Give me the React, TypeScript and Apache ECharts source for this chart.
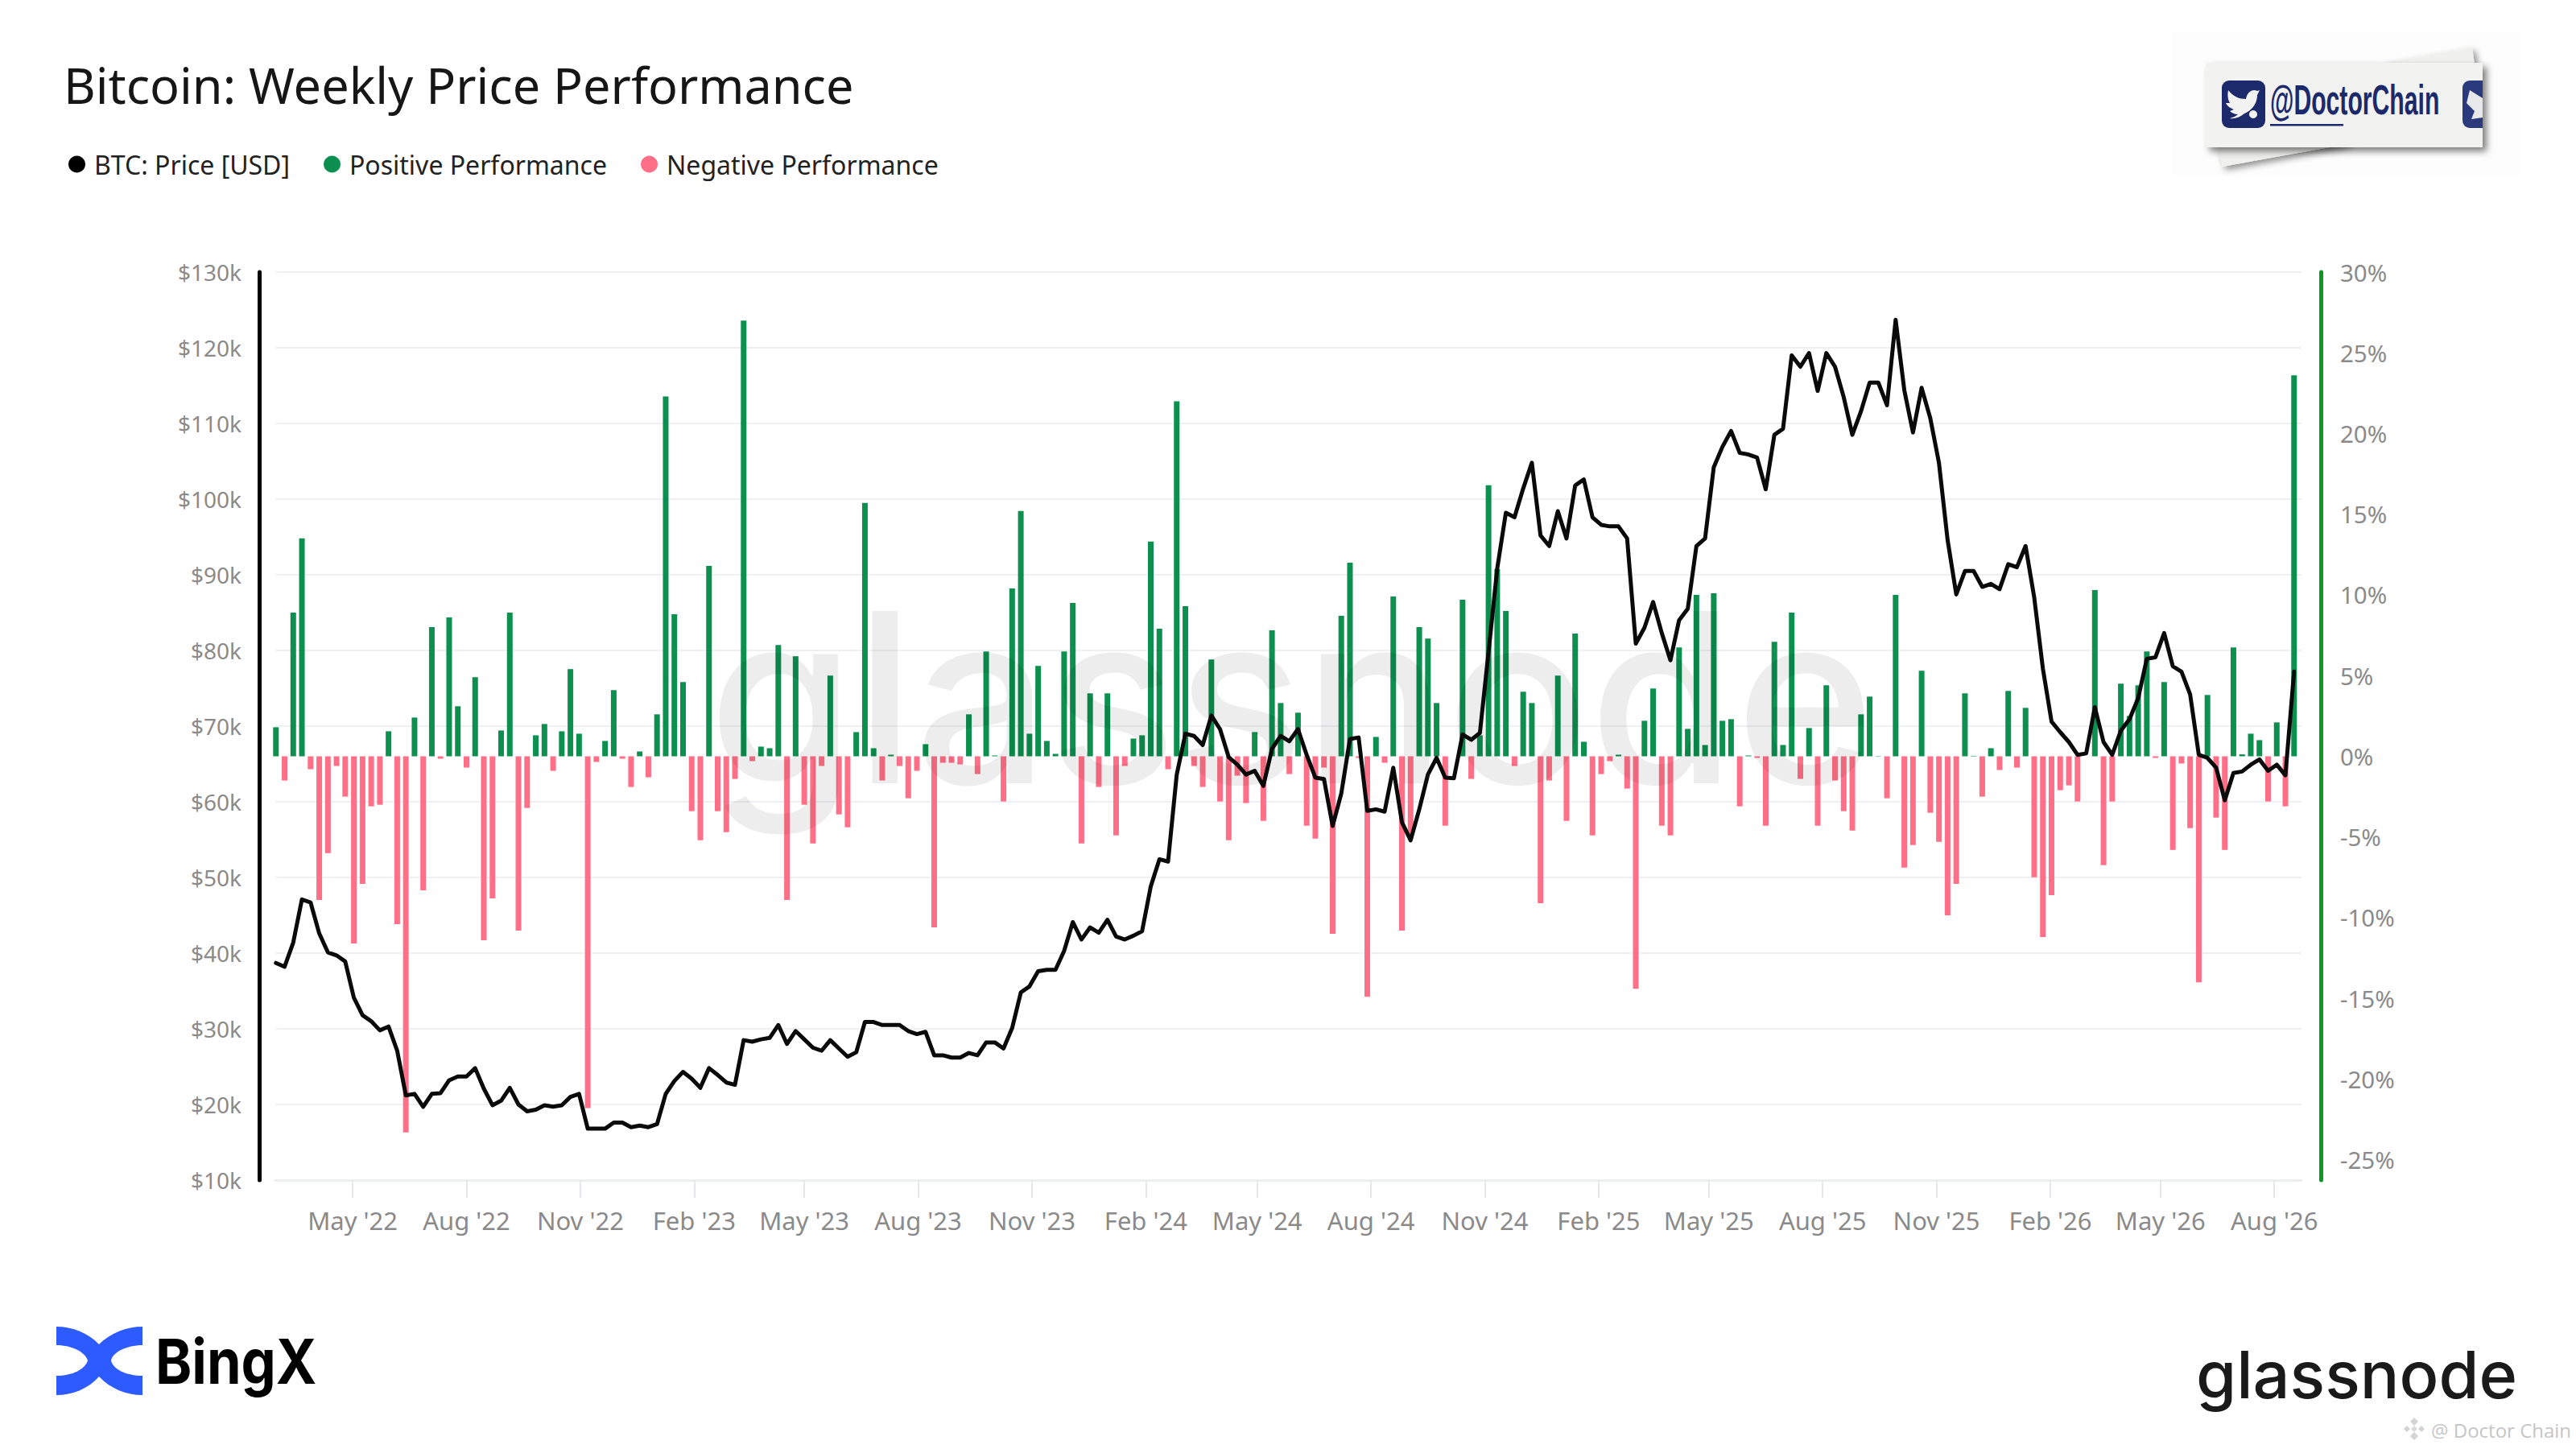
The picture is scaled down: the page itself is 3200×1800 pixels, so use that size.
import React, { useEffect, useRef } from 'react';
import * as echarts from 'echarts';

// weekly closes, in thousands of USD
const btcPriceK = [
  38.7, 38.2, 41.4, 47.1, 46.7, 42.6, 40.1, 39.7, 38.9, 34.1, 31.8, 31.0, 29.8, 30.3, 27.1, 21.2, 21.4, 19.7, 21.4, 21.5,
  23.2, 23.7, 23.7, 24.8, 22.1, 19.9, 20.5, 22.2, 20.0, 19.1, 19.3, 19.9, 19.7, 19.9, 21.0, 21.4, 16.8, 16.8, 16.8, 17.6,
  17.6, 17.0, 17.2, 17.0, 17.4, 21.4, 23.1, 24.3, 23.4, 22.2, 24.8, 23.9, 22.9, 22.6, 28.5, 28.3, 28.6, 28.8, 30.5, 28.0,
  29.7, 28.6, 27.5, 27.1, 28.5, 27.4, 26.3, 26.9, 30.9, 30.9, 30.5, 30.5, 30.5, 29.7, 29.3, 29.6, 26.5, 26.5, 26.2, 26.2,
  26.8, 26.5, 28.2, 28.2, 27.4, 30.1, 34.8, 35.6, 37.6, 37.8, 37.8, 40.3, 44.1, 41.8, 43.4, 42.7, 44.4, 42.2, 41.8, 42.3,
  42.9, 48.8, 52.4, 52.1, 63.6, 69.0, 68.7, 67.5, 71.4, 69.6, 65.9, 64.9, 63.6, 64.1, 62.1, 67.0, 68.7, 68.0, 69.6, 66.2,
  63.2, 63.0, 56.8, 61.1, 68.3, 68.5, 58.8, 59.0, 58.7, 64.5, 57.3, 54.9, 59.0, 63.6, 65.8, 63.2, 63.1, 68.9, 68.2, 69.1,
  79.8, 90.8, 98.2, 97.6, 101.4, 104.8, 95.2, 93.8, 98.4, 94.8, 101.8, 102.6, 97.6, 96.6, 96.4, 96.4, 94.8, 80.9, 83.0, 86.4,
  82.3, 78.7, 84.0, 85.5, 93.8, 94.8, 104.2, 106.9, 109.0, 106.1, 105.9, 105.5, 101.3, 108.5, 109.3, 119.0, 117.5, 119.3, 114.3, 119.3,
  117.5, 113.5, 108.5, 111.6, 115.4, 115.4, 112.4, 123.7, 114.4, 108.8, 114.7, 110.7, 104.8, 94.6, 87.4, 90.5, 90.5, 88.4, 88.8, 88.1,
  91.4, 91.0, 93.8, 87.0, 77.6, 70.6, 69.2, 67.9, 66.2, 66.4, 72.5, 67.9, 66.2, 69.4, 70.9, 73.7, 78.9, 79.1, 82.3, 77.9,
  77.2, 74.2, 66.2, 65.8, 64.5, 60.2, 63.8, 64.0, 64.9, 65.6, 64.1, 64.9, 63.5, 77.2,
];

// weekly change in percent
const weeklyChange = [
  1.8, -1.5, 8.9, 13.5, -0.8, -8.9, -6.0, -0.6, -2.5, -11.6, -7.9, -3.1, -3.0, 1.55, -10.4, -23.3, 2.4, -8.3, 8.0, -0.15,
  8.6, 3.1, -0.7, 4.9, -11.4, -8.8, 1.6, 8.9, -10.8, -3.2, 1.3, 2.0, -0.9, 1.55, 5.4, 1.4, -21.8, -0.35, 0.95, 4.1,
  -0.15, -1.9, 0.3, -1.3, 2.6, 22.3, 8.8, 4.6, -3.4, -5.2, 11.8, -3.4, -4.7, -1.4, 27.0, -0.3, 0.6, 0.5, 6.9, -8.9,
  6.2, -3.0, -5.4, -0.6, 5.0, -3.6, -4.4, 1.5, 15.7, 0.5, -1.5, 0.1, -0.6, -2.6, -0.9, 0.75, -10.6, -0.4, -0.4, -0.5,
  2.6, -1.1, 6.5, 0.05, -2.8, 10.4, 15.2, 1.4, 5.6, 0.95, 0.15, 6.5, 9.5, -5.4, 3.9, -1.9, 3.9, -4.9, -0.6, 1.1,
  1.3, 13.3, 7.9, -0.8, 22.0, 9.3, -0.6, -1.9, 6.0, -2.8, -5.2, -1.2, -2.9, 1.5, -4.0, 7.8, 3.3, -1.1, 2.7, -4.3,
  -5.1, -0.7, -11.0, 8.7, 12.0, -0.1, -14.9, 1.2, -0.4, 9.9, -10.8, -5.1, 8.0, 7.3, 3.3, -4.3, 0, 9.7, -1.4, 1.3,
  16.8, 11.6, 9.0, -0.6, 4.0, 3.3, -9.1, -1.5, 5.0, -4.0, 7.6, 0.9, -4.9, -1.1, -0.3, 0.1, -2.0, -14.4, 2.2, 4.2,
  -4.3, -4.9, 6.75, 1.7, 10.0, 0.7, 10.1, 2.2, 2.3, -3.1, 0.05, -0.1, -4.3, 7.1, 0.7, 8.9, -1.4, 1.75, -4.3, 4.4,
  -1.5, -3.4, -4.6, 2.6, 3.7, 0.02, -2.6, 10.0, -6.9, -5.5, 5.3, -3.5, -5.3, -9.85, -7.9, 3.9, 0.03, -2.5, 0.5, -0.85,
  4.05, -0.7, 3.0, -7.5, -11.2, -8.6, -2.1, -1.8, -2.8, 0, 10.3, -6.75, -2.8, 4.5, 2.5, 4.4, 6.5, -0.1, 4.6, -5.8,
  -0.45, -4.45, -14.0, 3.8, -3.8, -5.8, 6.75, 0.12, 1.4, 1.0, -2.8, 2.1, -3.1, 23.6,
];

const firstWeek = Date.UTC(2022, 1, 28);
const weekMs = 7 * 24 * 3600 * 1000;

const xTickDates = [
  '2022-05-01', '2022-08-01', '2022-11-01', '2023-02-01', '2023-05-01', '2023-08-01', '2023-11-01', '2024-02-01', '2024-05-01',
  '2024-08-01', '2024-11-01', '2025-02-01', '2025-05-01', '2025-08-01', '2025-11-01', '2026-02-01', '2026-05-01', '2026-08-01',
];
const xTickLabels = [
  "May '22", "Aug '22", "Nov '22", "Feb '23", "May '23", "Aug '23", "Nov '23", "Feb '24", "May '24",
  "Aug '24", "Nov '24", "Feb '25", "May '25", "Aug '25", "Nov '25", "Feb '26", "May '26", "Aug '26",
];
const percentTicks = [30, 25, 20, 15, 10, 5, 0, -5, -10, -15, -20, -25];

const UI_FONT = '"Noto Sans", sans-serif';

echarts.graphic.registerShape(
  'bingxMark',
  echarts.graphic.extendPath(
    'M0 0C20 0 40 8 53 22C67 8 87 0 107 0L107 23C87 23 70 32 68 42C70 53 87 61 107 61L107 85C87 85 67 77 53 62C40 77 20 85 0 85L0 61C20 61 36 53 39 42C36 32 20 23 0 23Z',
    {}
  )
);
echarts.graphic.registerShape(
  'birdMark',
  echarts.graphic.extendPath(
    'M8 12C14 20 22 23 30 23C31 15 38 10 44 13L47 12L44 18C44 28 38 37 28 41C22 46 16 48 10 47C14 46 18 44 20 42C16 42 12 40 10 38L15 36C10 34 6 31 5 28L10 28C7 23 7 17 8 12Z',
    {}
  )
);

const diamond = (cx: number, cy: number, r: number, fill: string) => ({
  type: 'polygon',
  z: 30,
  shape: { points: [[cx, cy - r], [cx + r, cy], [cx, cy + r], [cx - r, cy]] },
  style: { fill },
});

const App: React.FC = () => {
  const chartRef = useRef<HTMLDivElement>(null);

  useEffect(() => {
    if (!chartRef.current) return;
    const chart = echarts.init(chartRef.current, null, { renderer: 'svg' });

    const weekOf = (i: number) => firstWeek + i * weekMs;
    const priceData = btcPriceK.map((v, i) => [weekOf(i), v * 1000]);
    const positiveData = weeklyChange.map((v, i) => [weekOf(i), v >= 0 ? v : null]);
    const negativeData = weeklyChange.map((v, i) => [weekOf(i), v < 0 ? v : null]);
    const tickTimes = xTickDates.map((d) => Date.parse(d));
    const tickLabelByTime = new Map(tickTimes.map((t, i) => [t, xTickLabels[i]]));

    chart.setOption({
      animation: false,
      backgroundColor: '#ffffff',
      title: {
        text: 'Bitcoin: Weekly Price Performance',
        left: 74,
        top: 70,
        textStyle: { fontFamily: UI_FONT, fontSize: 61.2, fontWeight: 400, color: '#161616' },
      },
      legend: {
        left: 80,
        top: 183,
        icon: 'circle',
        itemWidth: 21,
        itemHeight: 21,
        itemGap: 42,
        data: ['BTC: Price [USD]', 'Positive Performance', 'Negative Performance'],
        textStyle: { fontFamily: UI_FONT, fontSize: 32, color: '#222222', padding: [0, 0, 0, 6] },
      },
      grid: { left: 342, right: 341, top: 338, bottom: 334 },
      xAxis: {
        // timestamps on a value axis, the ticks are the 1st of every third month
        type: 'value',
        min: Date.UTC(2022, 1, 27, 12),
        max: Date.UTC(2026, 7, 23),
        axisLine: { onZero: false, lineStyle: { color: '#eceef2', width: 3 } },
        axisTick: {
          length: 22,
          lineStyle: { color: '#e6e7ec', width: 2 },
          customValues: tickTimes,
        },
        axisLabel: {
          customValues: tickTimes,
          formatter: (v: number) => tickLabelByTime.get(v) ?? '',
          margin: 34,
          fontFamily: UI_FONT,
          fontSize: 31,
          color: '#8a8a8a',
        },
        splitLine: { show: false },
      },
      yAxis: [
        {
          type: 'value',
          position: 'left',
          offset: 20,
          min: 10000,
          max: 130000,
          interval: 10000,
          axisLine: { show: true, lineStyle: { color: '#000000', width: 5 } },
          axisTick: { show: false },
          axisLabel: {
            formatter: (v: number) => `$${v / 1000}k`,
            margin: 22,
            fontFamily: UI_FONT,
            fontSize: 28,
            color: '#8a8a8a',
          },
          splitLine: { lineStyle: { color: '#eff0f3', width: 2 } },
        },
        {
          type: 'value',
          position: 'right',
          offset: 24,
          min: -26.26,
          max: 30,
          axisLine: { show: true, onZero: false, lineStyle: { color: '#0a9a1f', width: 5 } },
          axisTick: { show: false },
          axisLabel: {
            customValues: percentTicks,
            formatter: (v: number) => `${v}%`,
            margin: 24,
            fontFamily: UI_FONT,
            fontSize: 29.5,
            color: '#8a8a8a',
          },
          splitLine: { show: false },
        },
      ],
      series: [
        {
          name: 'Positive Performance',
          type: 'bar',
          yAxisIndex: 1,
          data: positiveData,
          barWidth: 7,
          barGap: '-100%',
          itemStyle: { color: '#0c8f4f' },
        },
        {
          name: 'Negative Performance',
          type: 'bar',
          yAxisIndex: 1,
          data: negativeData,
          barWidth: 7,
          barGap: '-100%',
          itemStyle: { color: '#ff6f87' },
        },
        {
          name: 'BTC: Price [USD]',
          type: 'line',
          yAxisIndex: 0,
          data: priceData,
          showSymbol: false,
          z: 5,
          itemStyle: { color: '#000000' },
          lineStyle: { color: '#0a0a0a', width: 5, join: 'round', cap: 'round' },
        },
      ],
      graphic: {
        elements: [
          // big watermark sits on top of the marks, see-through
          {
            type: 'text',
            z: 20,
            silent: true,
            style: {
              text: 'glassnode',
              x: 880,
              y: 866,
              font: '500 294px Inter, sans-serif',
              fill: 'rgba(0,0,0,0.07)',
              textAlign: 'left',
              textVerticalAlign: 'middle',
            },
          },
          // sticker top right
          { type: 'rect', z: 21, shape: { x: 2698, y: 40, width: 434, height: 179 }, style: { fill: '#fdfdfd' } },
          {
            type: 'polygon',
            z: 22,
            shape: { points: [[2755, 183], [2761, 207], [2910, 180], [3074, 80], [3071, 59], [2965, 78]] },
            style: { fill: '#f0f0ee', shadowBlur: 8, shadowColor: 'rgba(0,0,0,0.45)', shadowOffsetX: 4, shadowOffsetY: 4 },
          },
          {
            type: 'rect',
            z: 23,
            shape: { x: 2740, y: 78, width: 344, height: 105 },
            style: { fill: '#f2f2f0', shadowBlur: 8, shadowColor: 'rgba(0,0,0,0.5)', shadowOffsetX: 5, shadowOffsetY: 5 },
          },
          { type: 'rect', z: 24, shape: { x: 2760, y: 100, width: 54, height: 59, r: 9 }, style: { fill: '#1c2a6b' } },
          { type: 'birdMark', z: 25, x: 2760, y: 100, style: { fill: '#f2f2f0' } },
          { type: 'circle', z: 25, shape: { cx: 2799, cy: 142, r: 5 }, style: { fill: '#f2f2f0' } },
          {
            type: 'text',
            z: 25,
            x: 2820,
            y: 124,
            scaleX: 0.58,
            style: {
              text: '@DoctorChain',
              x: 0,
              y: 0,
              font: 'bold 52px "Liberation Sans", sans-serif',
              fill: '#1c2a6b',
              textAlign: 'left',
              textVerticalAlign: 'middle',
            },
          },
          { type: 'rect', z: 25, shape: { x: 2820, y: 154, width: 91, height: 2.5 }, style: { fill: '#1c2a6b' } },
          { type: 'rect', z: 24, shape: { x: 3059, y: 100, width: 25, height: 59, r: [9, 0, 0, 9] }, style: { fill: '#2a3a7c' } },
          {
            type: 'polygon',
            z: 25,
            shape: { points: [[3068, 112], [3084, 122], [3084, 146], [3070, 148], [3074, 138], [3064, 128]] },
            style: { fill: '#e8e8ea' },
          },
          // footer logos
          { type: 'bingxMark', z: 25, x: 70, y: 1648, style: { fill: '#2d5bff' } },
          {
            type: 'text',
            z: 25,
            x: 193,
            y: 1691,
            scaleX: 0.89,
            style: {
              text: 'BingX',
              x: 0,
              y: 0,
              font: '700 77px Inter, sans-serif',
              fill: '#000000',
              textAlign: 'left',
              textVerticalAlign: 'middle',
            },
          },
          {
            type: 'text',
            z: 25,
            style: {
              text: 'glassnode',
              x: 2728,
              y: 1708,
              font: '500 81px Inter, sans-serif',
              fill: '#1a1a1a',
              textAlign: 'left',
              textVerticalAlign: 'middle',
            },
          },
          {
            type: 'text',
            z: 25,
            style: {
              text: '@ Doctor Chain',
              x: 3020,
              y: 1776,
              font: '24px "Open Sans", sans-serif',
              fill: '#c6c6c6',
              textAlign: 'left',
              textVerticalAlign: 'middle',
            },
          },
          diamond(2999, 1766, 5, '#d4d4d4'),
          diamond(2990, 1775, 4, '#d4d4d4'),
          diamond(3008, 1775, 4, '#d4d4d4'),
          diamond(2999, 1775, 4, '#dcdcdc'),
          diamond(2999, 1784, 5, '#d4d4d4'),
        ],
      },
    });

    return () => {
      chart.dispose();
    };
  }, []);

  return <div ref={chartRef} style={{ position: 'absolute', left: 0, top: 0, width: 3200, height: 1800 }} />;
};

export default App;
